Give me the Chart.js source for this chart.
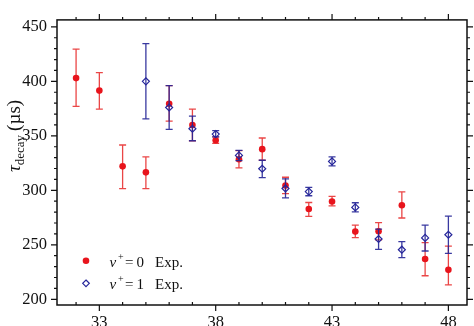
<!DOCTYPE html>
<html>
<head>
    <meta charset="utf-8">
    <title>Decay time</title>
    <script src="https://cdn.jsdelivr.net/npm/chart.js"></script>
    <style>
        body { margin: 0; background: #fff; }
        #wrap { width: 474px; height: 326px; }
    </style>
</head>
<body>
    <div id="wrap"><canvas id="decayChart"></canvas></div>

    <script>
        // v+ = 0 (red, filled dots)
        const xRed = [32, 33, 34, 35, 36, 37, 38, 39, 40, 41, 42, 43, 44, 45, 46, 47, 48];
        const yRed = [403, 391.5, 322, 316.5, 379.5, 360, 346, 328.5, 337.8, 304.4, 282.8, 289.8, 262.1, 262.4, 286.3, 237, 227];
        const redLow = [377, 374.6, 301.5, 301.5, 363.5, 345.4, 343, 320.6, 327.6, 297, 276, 285.7, 256.5, 254.5, 274.6, 221.6, 213.2];
        const redHigh = [429.5, 408, 341.6, 330.6, 396, 374.6, 349, 336.4, 348, 312, 288.8, 294.4, 268, 270.3, 298.5, 252, 248.8];

        // v+ = 1 (blue, open diamonds)
        const xBlue = [35, 36, 37, 38, 39, 40, 41, 42, 43, 44, 45, 46, 47, 48];
        const yBlue = [400, 376, 356.5, 351.6, 332, 319.8, 301.7, 298.8, 326.5, 284.3, 255.3, 245.5, 256.3, 259.2];
        const blueLow = [365.6, 356, 345.5, 349, 327.3, 311.6, 293, 295, 322.4, 280.2, 245.8, 238.2, 244.3, 242.2];
        const blueHigh = [434.7, 396, 368, 354.8, 336.7, 327.6, 310.5, 302.7, 330.6, 288.6, 264.3, 253, 268, 276.3];

        const xTickLabels = [33, 38, 43, 48];
        const yTickLabels = [200, 250, 300, 350, 400, 450];

        const serif = "'Liberation Serif', 'Times New Roman', serif";
        const redPoint = '#e8141c';
        const redBar = 'rgba(232, 50, 50, 0.9)';
        const bluePoint = '#25259a';
        const blueBar = 'rgba(35, 35, 150, 0.9)';

        function toPoints(xs, ys, lo, hi) {
            return xs.map((x, i) => ({ x: x, y: ys[i], lo: lo[i], hi: hi[i] }));
        }

        // error bars, drawn under each dataset's points
        const errorBars = {
            id: 'errorBars',
            beforeDatasetDraw(chart, args) {
                const ds = chart.data.datasets[args.index];
                const { ctx, scales: { x, y } } = chart;
                ctx.save();
                ctx.strokeStyle = ds.barColor;
                ctx.lineWidth = 1.3;
                ctx.beginPath();
                ds.data.forEach(p => {
                    const px = x.getPixelForValue(p.x);
                    const top = y.getPixelForValue(p.hi);
                    const bot = y.getPixelForValue(p.lo);
                    ctx.moveTo(px, top); ctx.lineTo(px, bot);
                    ctx.moveTo(px - 3.5, top); ctx.lineTo(px + 3.5, top);
                    ctx.moveTo(px - 3.5, bot); ctx.lineTo(px + 3.5, bot);
                });
                ctx.stroke();
                ctx.restore();
            }
        };

        // frame with outward ticks on all four sides
        const frameTicks = {
            id: 'frameTicks',
            afterDraw(chart) {
                const { ctx, chartArea: a, scales: { x, y } } = chart;
                ctx.save();
                ctx.strokeStyle = '#111';
                ctx.lineWidth = 1.5;
                ctx.strokeRect(a.left, a.top, a.right - a.left, a.bottom - a.top);
                ctx.lineWidth = 1.2;
                ctx.beginPath();
                for (let v = Math.ceil(x.min); v <= x.max; v++) {
                    const px = x.getPixelForValue(v);
                    const major = xTickLabels.includes(v);
                    if (major) {
                        ctx.moveTo(px, a.bottom); ctx.lineTo(px, a.bottom + 6);
                        ctx.moveTo(px, a.top); ctx.lineTo(px, a.top - 6);
                    } else {
                        ctx.moveTo(px, a.bottom); ctx.lineTo(px, a.bottom - 3);
                        ctx.moveTo(px, a.top); ctx.lineTo(px, a.top - 3);
                    }
                }
                for (let v = Math.ceil(y.min / 10) * 10; v <= y.max; v += 10) {
                    const py = y.getPixelForValue(v);
                    const len = yTickLabels.includes(v) ? 6 : 3;
                    ctx.moveTo(a.left, py); ctx.lineTo(a.left - len, py);
                    ctx.moveTo(a.right, py); ctx.lineTo(a.right + len, py);
                }
                ctx.stroke();
                ctx.restore();
            }
        };

        function drawLegendText(ctx, x, y, n) {
            ctx.font = 'italic 15px ' + serif;
            ctx.fillText('ν', x, y);
            ctx.font = '10px ' + serif;
            ctx.fillText('+', x + 8.5, y - 6.5);
            ctx.font = '15px ' + serif;
            ctx.fillText('=', x + 15.5, y);
            ctx.fillText(String(n), x + 27, y);
            ctx.fillText('Exp.', x + 45.5, y);
        }

        const annotations = {
            id: 'annotations',
            afterDraw(chart) {
                const { ctx } = chart;
                ctx.save();
                ctx.fillStyle = '#000';
                ctx.textAlign = 'left';
                ctx.textBaseline = 'alphabetic';

                // legend
                ctx.fillStyle = redPoint;
                ctx.beginPath();
                ctx.arc(86, 260.7, 3.3, 0, Math.PI * 2);
                ctx.fill();
                ctx.strokeStyle = bluePoint;
                ctx.lineWidth = 1.2;
                ctx.beginPath();
                ctx.moveTo(86, 280); ctx.lineTo(89.3, 283.3);
                ctx.lineTo(86, 286.6); ctx.lineTo(82.7, 283.3);
                ctx.closePath();
                ctx.stroke();
                ctx.fillStyle = '#111';
                drawLegendText(ctx, 109.5, 266.5, 0);
                drawLegendText(ctx, 109.5, 288.5, 1);

                // y axis title: tau_decay (µs)
                ctx.translate(20, 172);
                ctx.rotate(-Math.PI / 2);
                ctx.font = 'italic 19px ' + serif;
                ctx.fillText('τ', 0, 0);
                let w = ctx.measureText('τ').width;
                ctx.font = '13px ' + serif;
                ctx.fillText('decay', w, 4);
                w += ctx.measureText('decay').width + 4;
                ctx.font = '19px ' + serif;
                ctx.fillText('(µs)', w, 0);
                ctx.restore();
            }
        };

        const ctx = document.getElementById('decayChart').getContext('2d');
        const chart = new Chart(ctx, {
            type: 'scatter',
            data: {
                datasets: [{
                    label: 'v+ = 0 Exp.',
                    data: toPoints(xRed, yRed, redLow, redHigh),
                    barColor: redBar,
                    pointStyle: 'circle',
                    pointRadius: 3.3,
                    pointBackgroundColor: redPoint,
                    pointBorderColor: redPoint,
                    pointBorderWidth: 0,
                    order: 2
                }, {
                    label: 'v+ = 1 Exp.',
                    data: toPoints(xBlue, yBlue, blueLow, blueHigh),
                    barColor: blueBar,
                    pointStyle: 'rectRot',
                    pointRadius: 3.5,
                    pointBackgroundColor: 'rgba(255,255,255,0)',
                    pointBorderColor: bluePoint,
                    pointBorderWidth: 1.2,
                    order: 1
                }]
            },
            options: {
                responsive: true,
                maintainAspectRatio: false,
                animation: false,
                devicePixelRatio: 1,
                layout: { padding: { top: 6, right: 7, left: 0, bottom: 0 } },
                plugins: {
                    legend: { display: false },
                    tooltip: { enabled: false }
                },
                scales: {
                    x: {
                        type: 'linear',
                        min: 31.18,
                        max: 48.8,
                        grid: { display: false, drawTicks: false },
                        border: { display: false },
                        afterBuildTicks: s => { s.ticks = xTickLabels.map(v => ({ value: v })); },
                        afterFit: s => { s.height = 21; },
                        ticks: {
                            autoSkip: false,
                            maxRotation: 0,
                            padding: 7.5,
                            color: '#111',
                            font: { family: serif, size: 16.5 }
                        }
                    },
                    y: {
                        min: 194.75,
                        max: 456.4,
                        grid: { display: false, drawTicks: false },
                        border: { display: false },
                        afterBuildTicks: s => { s.ticks = yTickLabels.map(v => ({ value: v })); },
                        afterFit: s => { s.width = 57; },
                        ticks: {
                            padding: 10,
                            color: '#111',
                            font: { family: serif, size: 16.5 }
                        }
                    }
                }
            },
            plugins: [errorBars, frameTicks, annotations]
        });
    </script>
</body>
</html>
